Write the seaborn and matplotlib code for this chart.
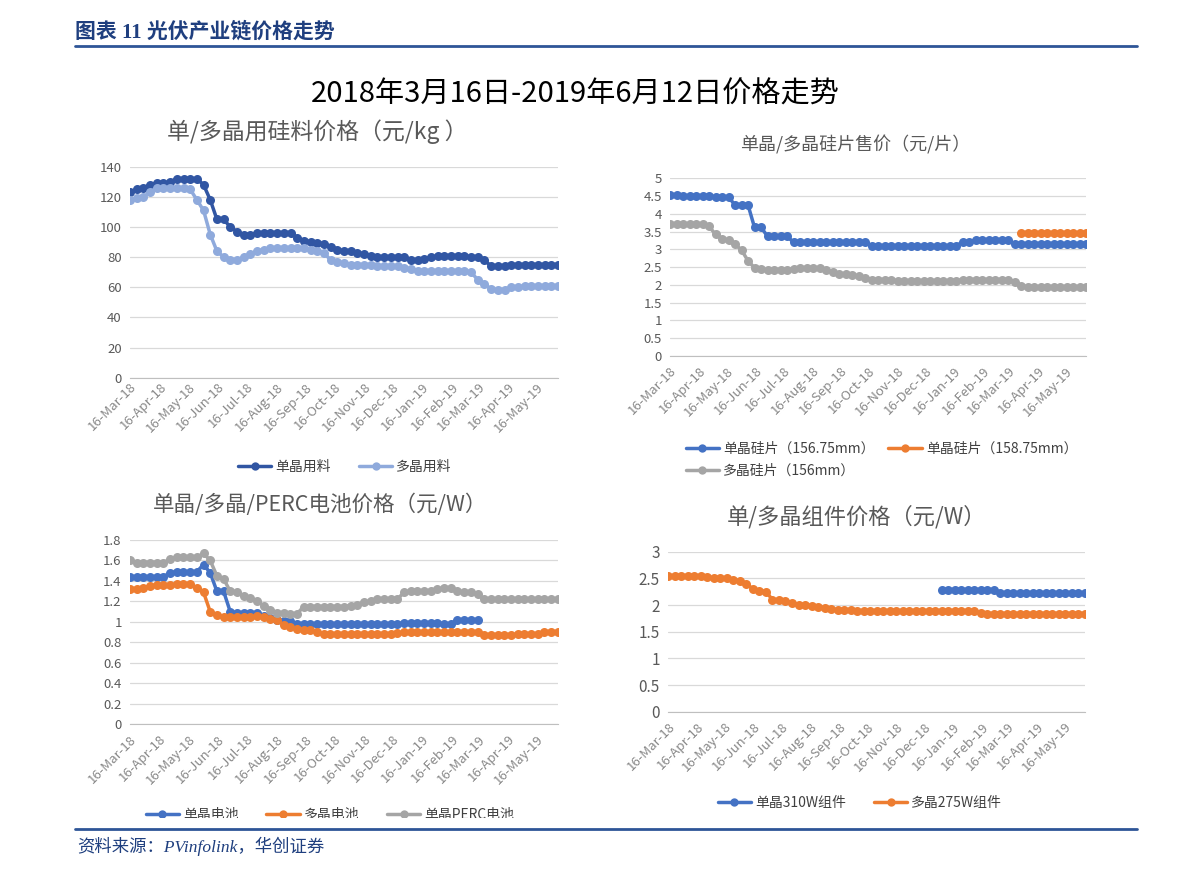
import numpy as np
import pandas as pd
import matplotlib
matplotlib.use('Agg')
import matplotlib.pyplot as plt
import matplotlib.dates as mdates
from matplotlib.lines import Line2D
from matplotlib.patches import Rectangle
from matplotlib.ticker import FuncFormatter
import seaborn as sns

sns.set_style('white')
plt.rcParams['font.family'] = ['Noto Sans CJK SC', 'DejaVu Sans']

# weekly price quotes (PVinfolink), 16-Mar-2018 onwards
dates = pd.date_range('2018-03-16', periods=65, freq='7D')

# 单/多晶用硅料 (元/kg)
mono_poly = [123, 125, 126, 128, 129, 129, 130, 132, 132, 132,
             132, 128, 118, 105, 105, 100, 97, 95, 95, 96,
             96, 96, 96, 96, 96, 93, 91, 90, 89.5, 89,
             87, 85, 84, 84, 83, 82, 81, 80, 80, 80,
             80, 80, 78, 78, 79, 80, 80.5, 81, 81, 81,
             81, 80, 80, 78, 74, 74, 74, 75, 75, 75,
             75, 75, 75, 75, 75]
multi_poly = [118, 119, 120, 123, 126, 126, 126, 126, 126, 125,
              118, 111, 95, 84, 80, 78, 78, 80, 82, 84,
              85, 86, 86, 86, 86, 86, 86, 85, 84, 83,
              78, 77, 76, 75, 75, 75, 75, 74, 74, 74,
              74, 73, 72, 71, 71, 71, 71, 71, 71, 71,
              71, 70, 65, 62, 59, 58, 58, 60, 60, 61,
              61, 61, 61, 61, 61]

# 硅片 (元/片)
mono_wafer = [4.52, 4.52, 4.5, 4.5, 4.5, 4.5, 4.5, 4.47, 4.47, 4.47,
              4.25, 4.25, 4.25, 3.62, 3.62, 3.37, 3.37, 3.37, 3.37, 3.2,
              3.2, 3.2, 3.2, 3.2, 3.2, 3.2, 3.2, 3.2, 3.2, 3.2,
              3.2, 3.1, 3.1, 3.1, 3.1, 3.1, 3.1, 3.1, 3.1, 3.1,
              3.1, 3.1, 3.1, 3.1, 3.1, 3.2, 3.22, 3.25, 3.25, 3.25,
              3.25, 3.25, 3.25, 3.15, 3.15, 3.15, 3.15, 3.15, 3.15, 3.15,
              3.15, 3.15, 3.15, 3.15, 3.15]
mono_wafer_158 = [np.nan] * 54 + [3.47, 3.47, 3.47, 3.47, 3.47, 3.47,
                                  3.47, 3.47, 3.47, 3.47, 3.47]
multi_wafer = [3.72, 3.72, 3.72, 3.72, 3.72, 3.72, 3.65, 3.42, 3.3, 3.25,
               3.15, 2.98, 2.68, 2.48, 2.44, 2.42, 2.42, 2.42, 2.42, 2.45,
               2.48, 2.48, 2.48, 2.48, 2.42, 2.35, 2.3, 2.3, 2.27, 2.25,
               2.2, 2.15, 2.15, 2.15, 2.15, 2.11, 2.11, 2.11, 2.11, 2.11,
               2.11, 2.11, 2.11, 2.11, 2.11, 2.15, 2.15, 2.15, 2.15, 2.15,
               2.15, 2.15, 2.15, 2.08, 1.98, 1.95, 1.95, 1.95, 1.95, 1.95,
               1.95, 1.95, 1.95, 1.95, 1.95]

# 电池 (元/W)
mono_cell = [1.44, 1.44, 1.44, 1.44, 1.44, 1.44, 1.48, 1.49, 1.49, 1.49,
             1.49, 1.56, 1.48, 1.3, 1.3, 1.1, 1.09, 1.09, 1.09, 1.09,
             1.06, 1.04, 1.02, 1.01, 1.01, 0.98, 0.98, 0.98, 0.98, 0.98,
             0.98, 0.98, 0.98, 0.98, 0.98, 0.98, 0.98, 0.98, 0.98, 0.98,
             0.98, 0.99, 0.99, 0.99, 0.99, 0.99, 0.99, 0.98, 0.98, 1.02,
             1.02, 1.02, 1.02] + [np.nan] * 12
multi_cell = [1.32, 1.32, 1.33, 1.35, 1.36, 1.36, 1.36, 1.37, 1.37, 1.37,
              1.33, 1.29, 1.1, 1.07, 1.05, 1.05, 1.05, 1.05, 1.05, 1.06,
              1.05, 1.03, 1.02, 0.97, 0.95, 0.93, 0.92, 0.92, 0.9, 0.88,
              0.88, 0.88, 0.88, 0.88, 0.88, 0.88, 0.88, 0.88, 0.88, 0.88,
              0.89, 0.9, 0.9, 0.9, 0.9, 0.9, 0.9, 0.9, 0.9, 0.9,
              0.9, 0.9, 0.9, 0.87, 0.87, 0.87, 0.87, 0.87, 0.88, 0.88,
              0.88, 0.88, 0.9, 0.9, 0.9]
perc_cell = [1.6, 1.58, 1.58, 1.58, 1.58, 1.58, 1.61, 1.63, 1.63, 1.63,
             1.63, 1.67, 1.6, 1.45, 1.42, 1.3, 1.29, 1.25, 1.23, 1.2,
             1.16, 1.12, 1.09, 1.09, 1.08, 1.08, 1.15, 1.15, 1.15, 1.15,
             1.15, 1.15, 1.15, 1.16, 1.17, 1.19, 1.2, 1.22, 1.22, 1.22,
             1.22, 1.29, 1.3, 1.3, 1.3, 1.3, 1.32, 1.33, 1.33, 1.3,
             1.29, 1.29, 1.27, 1.22, 1.22, 1.22, 1.22, 1.22, 1.22, 1.22,
             1.22, 1.22, 1.22, 1.22, 1.22]

# 组件 (元/W)
mono_module = [np.nan] * 42 + [2.29, 2.29, 2.29, 2.29, 2.29, 2.29, 2.29, 2.29,
                               2.29, 2.23, 2.22, 2.22, 2.22, 2.22, 2.22, 2.22,
                               2.22, 2.22, 2.22, 2.22, 2.22, 2.22, 2.22]
multi_module = [2.55, 2.55, 2.55, 2.55, 2.55, 2.55, 2.53, 2.5, 2.5, 2.5,
                2.47, 2.45, 2.4, 2.3, 2.27, 2.25, 2.1, 2.1, 2.08, 2.04,
                2.0, 2.0, 1.99, 1.97, 1.95, 1.93, 1.91, 1.91, 1.9, 1.88,
                1.88, 1.88, 1.88, 1.88, 1.88, 1.88, 1.88, 1.88, 1.88, 1.88,
                1.88, 1.89, 1.89, 1.89, 1.89, 1.89, 1.89, 1.89, 1.85, 1.84,
                1.84, 1.84, 1.84, 1.84, 1.84, 1.84, 1.84, 1.84, 1.84, 1.84,
                1.84, 1.84, 1.84, 1.84, 1.84]

for s in [mono_poly, multi_poly, mono_wafer, mono_wafer_158, multi_wafer,
          mono_cell, multi_cell, perc_cell, mono_module, multi_module]:
    assert len(s) == len(dates), len(s)

navy = '#1F3F7F'
c_dark = '#3156A3'
c_light = '#8FAADC'
c_blue = '#4472C4'
c_orange = '#ED7D31'
c_gray = '#A5A5A5'
txt_gray = '#595959'

W, H = 1191, 876
fig = plt.figure(figsize=(W / 100, H / 100), dpi=100)


def fx(x):
    return x / W


def fy(y):
    return 1 - y / H


def make_ax(x0, x1, ytop, ybot, ymax, ystep, yfs=9.5, xfs=9.5):
    ax = fig.add_axes([fx(x0), fy(ybot), fx(x1) - fx(x0), fy(ytop) - fy(ybot)])
    ax.set_ylim(0, ymax)
    ax.set_yticks(np.arange(0, ymax + ystep / 2, ystep))
    ax.yaxis.set_major_formatter(FuncFormatter(lambda v, p: f'{v:g}'))
    ax.grid(axis='y', color='#D9D9D9', lw=0.9)
    ax.set_axisbelow(True)
    for s in ['top', 'right', 'left']:
        ax.spines[s].set_visible(False)
    ax.spines['bottom'].set_color('#BFBFBF')
    ax.tick_params(axis='y', length=0, labelsize=yfs, labelcolor=txt_gray, pad=6)
    ax.tick_params(axis='x', length=4, color='#BFBFBF', labelsize=xfs,
                   labelcolor='#888888', pad=2)
    return ax


def finish_x(ax):
    ax.set_xlim(dates[0], dates[-1])
    ax.xaxis.set_major_locator(mdates.MonthLocator(bymonthday=16))
    ax.xaxis.set_major_formatter(mdates.DateFormatter('%d-%b-%y'))
    ax.set_xlabel('')
    ax.set_ylabel('')
    for lab in ax.get_xticklabels():
        lab.set_rotation(45)
        lab.set_ha('right')
        lab.set_rotation_mode('anchor')


def draw(ax, y, color):
    sns.lineplot(x=dates, y=y, ax=ax, color=color, marker='o', markersize=6.5,
                 markeredgewidth=0, linewidth=2.5, legend=False)


def handle(c):
    return Line2D([0], [0], color=c, marker='o', lw=2.5, ms=6, mew=0)


leg_kw = dict(frameon=False, handlelength=2.4, handletextpad=0.3,
              prop={'size': 10}, labelcolor='#404040')

# ---- top left: silicon material
ax1 = make_ax(130, 558, 166.7, 377.7, 140, 20)
draw(ax1, mono_poly, c_dark)
draw(ax1, multi_poly, c_light)
finish_x(ax1)
ax1.tick_params(axis='x', length=0)
fig.text(fx(317), fy(132), '单/多晶用硅料价格（元/kg ）', fontsize=16.5,
         color=txt_gray, ha='center', va='center')
fig.legend([handle(c_dark), handle(c_light)], ['单晶用料', '多晶用料'],
           loc='center', bbox_to_anchor=(fx(345), fy(467)), ncol=2,
           columnspacing=2.0, **leg_kw)

# ---- top right: wafers
ax2 = make_ax(670, 1086, 178.3, 356, 5, 0.5)
draw(ax2, mono_wafer, c_blue)
draw(ax2, mono_wafer_158, c_orange)
draw(ax2, multi_wafer, c_gray)
finish_x(ax2)
fig.text(fx(855), fy(145), '单晶/多晶硅片售价（元/片）', fontsize=13,
         color=txt_gray, ha='center', va='center')
fig.legend([handle(c_blue), handle(c_gray), handle(c_orange)],
           ['单晶硅片（156.75mm）', '多晶硅片（156mm）', '单晶硅片（158.75mm）'],
           loc='upper left', bbox_to_anchor=(fx(673), fy(429)), ncol=2,
           columnspacing=1.0, labelspacing=0.6, **leg_kw)

# ---- bottom left: cells
ax3 = make_ax(130, 557.7, 540, 724.3, 1.8, 0.2)
draw(ax3, mono_cell, c_blue)
draw(ax3, multi_cell, c_orange)
draw(ax3, perc_cell, c_gray)
finish_x(ax3)
fig.text(fx(320), fy(505), '单晶/多晶/PERC电池价格（元/W）', fontsize=15.5,
         color=txt_gray, ha='center', va='center')
fig.legend([handle(c_blue), handle(c_orange), handle(c_gray)],
           ['单晶电池', '多晶电池', '单晶PERC电池'],
           loc='center', bbox_to_anchor=(fx(330), fy(815)), ncol=3,
           columnspacing=2.0, **leg_kw)

# ---- bottom right: modules
ax4 = make_ax(668.3, 1085, 551.7, 711.7, 3, 0.5, yfs=11)
draw(ax4, mono_module, c_blue)
draw(ax4, multi_module, c_orange)
finish_x(ax4)
fig.text(fx(857), fy(517), '单/多晶组件价格（元/W）', fontsize=16,
         color=txt_gray, ha='center', va='center')
fig.legend([handle(c_blue), handle(c_orange)], ['单晶310W组件', '多晶275W组件'],
           loc='center', bbox_to_anchor=(fx(860), fy(803)), ncol=2,
           columnspacing=2.0, **leg_kw)

# page decoration: header, main title, footer
fig.text(fx(75), fy(32), '图表 11 光伏产业链价格走势', fontsize=15, weight='bold',
         color=navy, va='center', family=['Liberation Serif', 'Noto Sans CJK SC'])
fig.add_artist(Line2D([fx(75), fx(1137)], [fy(46), fy(46)], color='#2E5597', lw=2))
fig.text(fx(575), fy(95), '2018年3月16日-2019年6月12日价格走势', fontsize=21,
         color='black', ha='center', va='center')
fig.add_artist(Rectangle((fx(75), fy(828)), fx(600) - fx(75), fy(818) - fy(828),
                         facecolor='white', edgecolor='none', zorder=10))
fig.add_artist(Line2D([fx(75), fx(1137)], [fy(829), fy(829)], color='#2E5597',
                      lw=2, zorder=11))
fig.text(fx(77), fy(846), '资料来源：PVinfolink，华创证券', fontsize=12.5,
         color=navy, va='center', style='italic',
         family=['Liberation Serif', 'Noto Sans CJK SC'])

fig.savefig('out.png', dpi=100)
